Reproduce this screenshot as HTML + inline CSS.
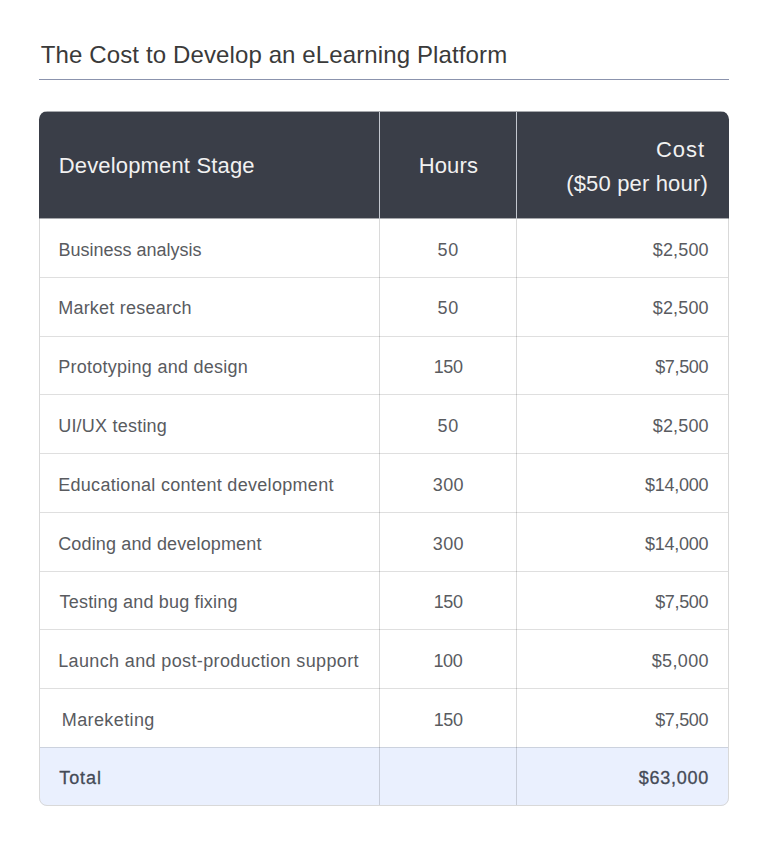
<!DOCTYPE html>
<html>
<head>
<meta charset="utf-8">
<style>
html,body{margin:0;padding:0;background:#fff;}
body{width:768px;height:846px;position:relative;overflow:hidden;font-family:"Liberation Sans",Arial,sans-serif;}
.t{position:absolute;white-space:nowrap;}
.l{position:absolute;}
</style>
</head>
<body>
<div class="l" style="left:39px;top:79px;width:690px;height:1px;background:#8b93ad"></div>
<div class="l" style="left:39px;top:112px;width:690px;height:694px;border-radius:8px;overflow:hidden;background:#fff">
<div class="l" style="left:0;top:635px;width:690px;height:59px;background:#eaf0fe"></div>
<div class="l" style="left:0;top:165px;width:690px;height:1px;background:rgba(0,0,0,0.125)"></div>
<div class="l" style="left:0;top:224px;width:690px;height:1px;background:rgba(0,0,0,0.125)"></div>
<div class="l" style="left:0;top:282px;width:690px;height:1px;background:rgba(0,0,0,0.125)"></div>
<div class="l" style="left:0;top:341px;width:690px;height:1px;background:rgba(0,0,0,0.125)"></div>
<div class="l" style="left:0;top:400px;width:690px;height:1px;background:rgba(0,0,0,0.125)"></div>
<div class="l" style="left:0;top:459px;width:690px;height:1px;background:rgba(0,0,0,0.125)"></div>
<div class="l" style="left:0;top:517px;width:690px;height:1px;background:rgba(0,0,0,0.125)"></div>
<div class="l" style="left:0;top:576px;width:690px;height:1px;background:rgba(0,0,0,0.125)"></div>
<div class="l" style="left:0;top:635px;width:690px;height:1px;background:rgba(0,0,0,0.125)"></div>
<div class="l" style="left:340px;top:106px;width:1px;height:588px;background:rgba(0,0,0,0.145)"></div>
<div class="l" style="left:477px;top:106px;width:1px;height:588px;background:rgba(0,0,0,0.145)"></div>
</div>
<div class="l" style="left:39px;top:112px;width:688px;height:692px;border:1px solid #d9d9d9;border-radius:8px"></div>
<div class="l" style="left:39px;top:111px;width:690px;height:108px;border-radius:8.5px 8.5px 0 0;background:linear-gradient(to bottom, rgba(58,62,72,0.45) 0, rgba(58,62,72,0.45) 1px, #3a3e48 1px, #3a3e48 107px, rgba(58,62,72,0.45) 107px)">
<div class="l" style="left:340px;top:1px;width:1px;height:107px;background:#c3c7cf"></div>
<div class="l" style="left:477px;top:1px;width:1px;height:107px;background:#c3c7cf"></div>
</div>
<div class="l" style="left:39px;top:218px;width:690px;height:1px;background:rgba(255,255,255,0.0)"></div>
<div class="t" style="left:40.80px;top:43.00px;font-size:24px;line-height:24px;color:#3a3a3a;letter-spacing:0.12px;">The Cost to Develop an eLearning Platform</div>
<div class="t" style="left:58.70px;top:155.00px;font-size:22px;line-height:22px;color:#f1f1f1;letter-spacing:0.163px;">Development Stage</div>
<div class="t" style="left:418.80px;top:155.00px;font-size:22px;line-height:22px;color:#f1f1f1;letter-spacing:0.1px;">Hours</div>
<div class="t" style="left:656.00px;top:139.00px;font-size:22px;line-height:22px;color:#f1f1f1;letter-spacing:0.933px;">Cost</div>
<div class="t" style="left:566.20px;top:173.00px;font-size:22px;line-height:22px;color:#f1f1f1;letter-spacing:0.162px;">($50 per hour)</div>
<div class="t" style="left:58.40px;top:241.00px;font-size:18px;line-height:18px;color:#595b5f;letter-spacing:0.006px;">Business analysis</div>
<div class="t" style="left:437.60px;top:241.00px;font-size:18px;line-height:18px;color:#595b5f;letter-spacing:0.6px;">50</div>
<div class="t" style="left:652.80px;top:241.00px;font-size:18px;line-height:18px;color:#595b5f;letter-spacing:0.14px;">$2,500</div>
<div class="t" style="left:58.20px;top:299.00px;font-size:18px;line-height:18px;color:#595b5f;letter-spacing:0.229px;">Market research</div>
<div class="t" style="left:437.60px;top:299.00px;font-size:18px;line-height:18px;color:#595b5f;letter-spacing:0.6px;">50</div>
<div class="t" style="left:652.80px;top:299.00px;font-size:18px;line-height:18px;color:#595b5f;letter-spacing:0.14px;">$2,500</div>
<div class="t" style="left:58.20px;top:358.00px;font-size:18px;line-height:18px;color:#595b5f;letter-spacing:0.262px;">Prototyping and design</div>
<div class="t" style="left:433.75px;top:358.00px;font-size:18px;line-height:18px;color:#595b5f;letter-spacing:-0.4px;">150</div>
<div class="t" style="left:655.20px;top:358.00px;font-size:18px;line-height:18px;color:#595b5f;letter-spacing:-0.36px;">$7,500</div>
<div class="t" style="left:58.20px;top:417.00px;font-size:18px;line-height:18px;color:#595b5f;letter-spacing:0.217px;">UI/UX testing</div>
<div class="t" style="left:437.60px;top:417.00px;font-size:18px;line-height:18px;color:#595b5f;letter-spacing:0.6px;">50</div>
<div class="t" style="left:652.80px;top:417.00px;font-size:18px;line-height:18px;color:#595b5f;letter-spacing:0.14px;">$2,500</div>
<div class="t" style="left:58.20px;top:476.00px;font-size:18px;line-height:18px;color:#595b5f;letter-spacing:0.303px;">Educational content development</div>
<div class="t" style="left:432.80px;top:476.00px;font-size:18px;line-height:18px;color:#595b5f;letter-spacing:0.35px;">300</div>
<div class="t" style="left:645.10px;top:476.00px;font-size:18px;line-height:18px;color:#595b5f;letter-spacing:-0.283px;">$14,000</div>
<div class="t" style="left:58.20px;top:535.00px;font-size:18px;line-height:18px;color:#595b5f;letter-spacing:0.148px;">Coding and development</div>
<div class="t" style="left:432.80px;top:535.00px;font-size:18px;line-height:18px;color:#595b5f;letter-spacing:0.35px;">300</div>
<div class="t" style="left:645.10px;top:535.00px;font-size:18px;line-height:18px;color:#595b5f;letter-spacing:-0.283px;">$14,000</div>
<div class="t" style="left:59.60px;top:593.00px;font-size:18px;line-height:18px;color:#595b5f;letter-spacing:0.176px;">Testing and bug fixing</div>
<div class="t" style="left:433.75px;top:593.00px;font-size:18px;line-height:18px;color:#595b5f;letter-spacing:-0.4px;">150</div>
<div class="t" style="left:655.20px;top:593.00px;font-size:18px;line-height:18px;color:#595b5f;letter-spacing:-0.36px;">$7,500</div>
<div class="t" style="left:58.20px;top:652.00px;font-size:18px;line-height:18px;color:#595b5f;letter-spacing:0.367px;">Launch and post-production support</div>
<div class="t" style="left:433.50px;top:652.00px;font-size:18px;line-height:18px;color:#595b5f;letter-spacing:-0.4px;">100</div>
<div class="t" style="left:651.70px;top:652.00px;font-size:18px;line-height:18px;color:#595b5f;letter-spacing:0.36px;">$5,000</div>
<div class="t" style="left:61.80px;top:711.00px;font-size:18px;line-height:18px;color:#595b5f;letter-spacing:0.389px;">Mareketing</div>
<div class="t" style="left:433.75px;top:711.00px;font-size:18px;line-height:18px;color:#595b5f;letter-spacing:-0.4px;">150</div>
<div class="t" style="left:655.20px;top:711.00px;font-size:18px;line-height:18px;color:#595b5f;letter-spacing:-0.36px;">$7,500</div>
<div class="t" style="left:59.30px;top:769.00px;font-size:18px;line-height:18px;color:#444a56;letter-spacing:0.9px;-webkit-text-stroke:0.3px #444a56;">Total</div>
<div class="t" style="left:638.70px;top:769.00px;font-size:18px;line-height:18px;color:#444a56;letter-spacing:0.75px;-webkit-text-stroke:0.3px #444a56;">$63,000</div>
</body>
</html>
